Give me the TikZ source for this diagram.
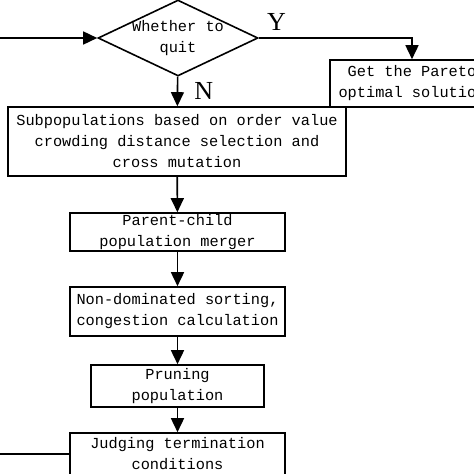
\documentclass[tikz,border=0pt]{standalone}
\usepackage{fontspec}
\setmonofont{Liberation Mono}
\newfontfamily\ynfont{Liberation Serif}
\usetikzlibrary{positioning, arrows.meta, shapes.geometric}

\begin{document}
\begin{tikzpicture}[
    x=1pt, y=-1pt,
    box/.style={
        rectangle,
        draw=black,
        line width=1.6pt,
        inner xsep=2pt,
        inner ysep=0pt,
        align=center,
        font=\fontsize{15.3}{21}\selectfont\ttfamily
    },
    decision/.style={
        diamond,
        draw=black,
        line width=1.6pt,
        aspect=2.1,
        inner sep=-4pt,
        minimum width=160pt,
        minimum height=76pt,
        align=center,
        font=\fontsize{15.3}{21}\selectfont\ttfamily
    },
    yn/.style={
        inner sep=0pt,
        font=\fontsize{26}{26}\selectfont\ynfont
    },
    arrow/.style={
        line width=1.6pt,
        -{Triangle[length=14pt, width=13pt]},
        color=black
    }
]
\clip (0,0) rectangle (474,474);

% Nodes
\node[decision] (quit) at (178,38) {\raisebox{-2pt}{\begin{tabular}{@{}c@{}}Whether to\\quit\end{tabular}}};
\node[box, minimum width=164pt, minimum height=47pt] (pareto) at (412,83.5) {Get the Pareto\\optimal solution};
\node[box, minimum width=338pt, minimum height=69pt] (subpop) at (177,141.5) {Subpopulations based on order value\\crowding distance selection and\\cross mutation};
\node[box, minimum width=215pt, minimum height=38pt] (merge) at (177.5,232) {Parent-child\\population merger};
\node[box, minimum width=215pt, minimum height=49pt] (sort) at (177.5,311.5) {Non-dominated sorting,\\congestion calculation};
\node[box, minimum width=173pt, minimum height=42pt] (prune) at (177.5,386) {Pruning\\population};
\node[box, minimum width=215pt, minimum height=42pt] (judge) at (177.5,454) {Judging termination\\conditions};

% Main flow arrows
\draw[arrow] (quit) -- node[yn, right=16pt] {N} (subpop);
\draw[arrow] (quit.east) -| node[yn, pos=0.058, above=7pt] {Y} (pareto.north);
\draw[arrow] (subpop) -- (merge);
\draw[arrow] (merge) -- (sort);
\draw[arrow] (sort) -- (prune);
\draw[arrow] (prune) -- (judge);

% Loop back to the decision
\draw[arrow] (judge.west) -- ++(-90,0) |- (quit.west);

\end{tikzpicture}
\end{document}
